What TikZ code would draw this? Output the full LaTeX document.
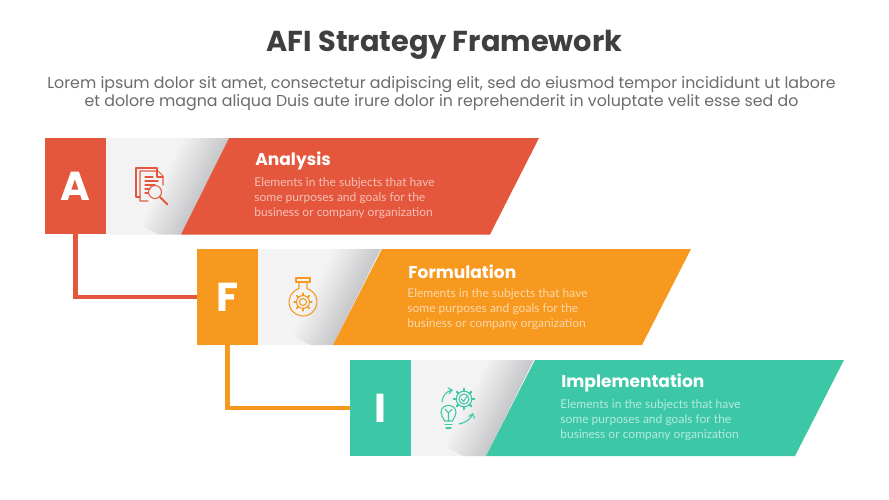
\documentclass[tikz,border=0pt]{standalone}
\usepackage{fontspec}
\usepackage{xcolor}
\setmainfont{Poppins}
\newfontfamily\bodyfont{Lato}
\usetikzlibrary{arrows.meta}

\definecolor{afired}{HTML}{E4573D}
\definecolor{afiorange}{HTML}{F7981F}
\definecolor{afiteal}{HTML}{3CC8A7}
\definecolor{afigrey}{HTML}{F3F3F3}
\definecolor{afishade}{HTML}{C6C7C9}
\definecolor{afitext}{HTML}{3F3F3F}
\definecolor{afisub}{HTML}{6B6B6B}

\tikzset{
    lettersq/.style = {minimum width = 1.22cm, minimum height = 1.93cm, inner sep = 0pt, outer sep = 0pt,
        text = white, font = \fontsize{23}{23}\selectfont\bfseries},
    headtext/.style = {anchor = west, inner sep = 0pt, text = white,
        font = \fontsize{9.7}{11}\selectfont\bfseries},
    bodytext/.style = {anchor = west, inner sep = 0pt, align = left,
        font = \fontsize{6.85}{8.5}\selectfont\bodyfont},
    wire/.style = {line width = 2.8pt},
    icon/.style = {line width = 0.6pt, line cap = round, line join = round}
}

\begin{document}
\begin{tikzpicture}[x = 0.02cm, y = -0.02cm]
        \useasboundingbox (0, 0) rectangle (889, 500);

        \node [text = afitext, inner sep = 0pt, font = \fontsize{16.4}{20}\selectfont\bfseries] (title) at (444.5, 45) {AFI Strategy Framework};
        \node [text = afisub, inner sep = 0pt, align = center, font = \fontsize{9}{10.2}\selectfont] (subtitle) at (441.5, 94)
            {Lorem ipsum dolor sit amet, consectetur adipiscing elit, sed do eiusmod tempor incididunt ut labore\\
             et dolore magna aliqua Duis aute irure dolor in reprehenderit in voluptate velit esse sed do};

        % first band
        \fill [afigrey] (106, 138) -- (229, 138) -- (181, 234.5) -- (106, 234.5) -- cycle;
        \begin{scope}
            \clip (106, 138) -- (229, 138) -- (181, 234.5) -- (106, 234.5) -- cycle;
            \begin{scope}[transform canvas = {shift = {(181, 234.5)}, rotate = 63.6}]
                \shade [top color = afigrey, bottom color = afishade] (-10, -42) rectangle (120, 0);
            \end{scope}
        \end{scope}
        \fill [afired] (229, 138) -- (539, 138) -- (490, 234.5) -- (181, 234.5) -- cycle;
        \node [lettersq, fill = afired] (sqA) at (75.5, 186.25) {A};
        \node [headtext] (headA) at (255, 161) {Analysis};
        \node [bodytext, text = white!62!afired] (bodyA) at (254, 198.5)
            {Elements in the subjects that have\\some purposes and goals for the\\business or company organization};

        % second band
        \fill [afigrey] (258, 249) -- (382, 249) -- (333, 345) -- (258, 345) -- cycle;
        \begin{scope}
            \clip (258, 249) -- (382, 249) -- (333, 345) -- (258, 345) -- cycle;
            \begin{scope}[transform canvas = {shift = {(333, 345)}, rotate = 63.6}]
                \shade [top color = afigrey, bottom color = afishade] (-10, -42) rectangle (120, 0);
            \end{scope}
        \end{scope}
        \fill [afiorange] (382, 249) -- (691, 249) -- (642, 345) -- (333, 345) -- cycle;
        \node [lettersq, fill = afiorange] (sqF) at (227.75, 297) {F};
        \node [headtext] (headF) at (408, 272) {Formulation};
        \node [bodytext, text = white!62!afiorange] (bodyF) at (407, 309.5)
            {Elements in the subjects that have\\some purposes and goals for the\\business or company organization};

        % third band
        \fill [afigrey] (411, 360) -- (535, 360) -- (486, 456) -- (411, 456) -- cycle;
        \begin{scope}
            \clip (411, 360) -- (535, 360) -- (486, 456) -- (411, 456) -- cycle;
            \begin{scope}[transform canvas = {shift = {(486, 456)}, rotate = 63.6}]
                \shade [top color = afigrey, bottom color = afishade] (-10, -42) rectangle (120, 0);
            \end{scope}
        \end{scope}
        \fill [afiteal] (535, 360) -- (844, 360) -- (795, 456) -- (486, 456) -- cycle;
        \node [lettersq, fill = afiteal] (sqI) at (380.5, 408) {I};
        \node [headtext] (headI) at (561, 383) {Implementation};
        \node [bodytext, text = white!62!afiteal] (bodyI) at (560, 420.5)
            {Elements in the subjects that have\\some purposes and goals for the\\business or company organization};

        % connectors
        \draw [wire, afired] (sqA.south) |- (sqF.west);
        \draw [wire, afiorange] (sqF.south) |- (sqI.west);

        % document icon
        \draw [icon, afired] (140, 197) -- (136, 197) -- (136, 168) -- (157, 168) -- (157, 171);
        \draw [icon, afired] (148, 201) -- (140, 201) -- (140, 171) -- (158, 171) -- (163, 176) -- (163, 185);
        \draw [icon, afired] (157, 171) -- (157, 177) -- (163, 177);
        \draw [icon, afired] (145, 177) -- (153, 177) (145, 181) -- (158, 181) (145, 185) -- (155, 185)
            (145, 189) -- (150, 189) (145, 193) -- (148, 193);
        \draw [icon, afired] (155, 192) circle (6.5);
        \draw [icon, afired, line width = 1.1pt] (160, 197) -- (167.5, 204.5);

        % flask icon
        \draw [icon, afiorange] (296, 278) rectangle (310, 282);
        \draw [icon, afiorange] (307, 282) -- (307, 288.6) (299, 282) -- (299, 288.6) arc (-106.6:-433.4:14);
        \draw [icon, afiorange] (303, 302) circle (3.5) (303, 302) circle (6.5);
        \foreach \a in {0, 45, ..., 315}
            \draw [icon, afiorange, line width = 1pt] (303, 302) ++(\a:6.5) -- ++(\a:2.3);

        % bulb and gear icon
        \draw [icon, afiteal] (464, 399) circle (5) (464, 399) circle (7.8);
        \foreach \a in {0, 45, ..., 315}
            \draw [icon, afiteal, line width = 1.2pt] (464, 399) ++(\a:7.8) -- ++(\a:2.6);
        \draw [icon, afiteal] (461.5, 399) -- (463.5, 401.5) -- (467, 396.5);
        \draw [icon, afiteal] (444.5, 421) .. controls (443, 417) and (441, 416) .. (441, 412.5)
            .. controls (441, 403) and (456, 403) .. (456, 412.5) .. controls (456, 416) and (454, 417) .. (452.5, 421) -- cycle;
        \draw [icon, afiteal] (445, 424.5) -- (452, 424.5) (446, 428) -- (451, 428);
        \draw [icon, afiteal] (448.5, 421) -- (448.5, 413) -- (445, 409) (448.5, 413) -- (452, 409);
        \draw [icon, afiteal, -{Straight Barb[length = 2.2pt, width = 3.5pt]}] (442, 402) .. controls (442, 396) and (447, 391) .. (453, 390);
        \draw [icon, afiteal, -{Straight Barb[length = 2.2pt, width = 3.5pt]}] (459, 424) .. controls (465, 423) and (471, 419) .. (473, 413);
\end{tikzpicture}
\end{document}
